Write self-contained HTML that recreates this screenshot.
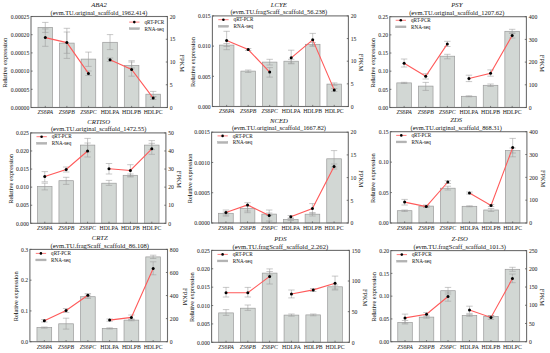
<!DOCTYPE html>
<html><head><meta charset="utf-8"><style>
html,body{margin:0;padding:0;background:#fff;}
svg{display:block;}
text{font-family:"Liberation Serif", serif; fill:#1a1a1a; stroke:#1a1a1a; stroke-width:0.03px;}
</style></head><body>
<svg width="550" height="353" viewBox="0 0 550 353">
<rect width="550" height="353" fill="#fff"/>
<g>
<rect x="38" y="27.4" width="14.59" height="80.1" fill="#d2d7d4" stroke="#9a9a9a" stroke-width="0.7"/>
<rect x="59.58" y="43.1" width="14.59" height="64.4" fill="#d2d7d4" stroke="#9a9a9a" stroke-width="0.7"/>
<rect x="81.15" y="59.1" width="14.59" height="48.4" fill="#d2d7d4" stroke="#9a9a9a" stroke-width="0.7"/>
<rect x="102.73" y="42.3" width="14.59" height="65.2" fill="#d2d7d4" stroke="#9a9a9a" stroke-width="0.7"/>
<rect x="124.31" y="65.5" width="14.59" height="42" fill="#d2d7d4" stroke="#9a9a9a" stroke-width="0.7"/>
<rect x="145.89" y="94.2" width="14.59" height="13.3" fill="#d2d7d4" stroke="#9a9a9a" stroke-width="0.7"/>
<path d="M45.29 22.4V32.4M42.09 22.4H48.49M42.09 32.4H48.49" stroke="#9a9a9a" stroke-width="0.55" fill="none"/>
<path d="M66.87 28.3V58.4M63.67 28.3H70.07M63.67 58.4H70.07" stroke="#9a9a9a" stroke-width="0.55" fill="none"/>
<path d="M88.45 52.1V66.4M85.25 52.1H91.65M85.25 66.4H91.65" stroke="#9a9a9a" stroke-width="0.55" fill="none"/>
<path d="M110.03 34.6V49.6M106.83 34.6H113.23M106.83 49.6H113.23" stroke="#9a9a9a" stroke-width="0.55" fill="none"/>
<path d="M131.61 62V68M128.41 62H134.81M128.41 68H134.81" stroke="#9a9a9a" stroke-width="0.55" fill="none"/>
<path d="M153.19 91.4V97M149.99 91.4H156.39M149.99 97H156.39" stroke="#9a9a9a" stroke-width="0.55" fill="none"/>
<path d="M45.29 28.9V46.3M42.09 28.9H48.49M42.09 46.3H48.49" stroke="#9a9a9a" stroke-width="0.55" fill="none"/>
<path d="M66.87 32V53.3M63.67 32H70.07M63.67 53.3H70.07" stroke="#9a9a9a" stroke-width="0.55" fill="none"/>
<path d="M88.45 71V75.5M85.25 71H91.65M85.25 75.5H91.65" stroke="#9a9a9a" stroke-width="0.55" fill="none"/>
<path d="M110.03 58V61.5M106.83 58H113.23M106.83 61.5H113.23" stroke="#9a9a9a" stroke-width="0.55" fill="none"/>
<path d="M131.61 60.7V76.2M128.41 60.7H134.81M128.41 76.2H134.81" stroke="#9a9a9a" stroke-width="0.55" fill="none"/>
<path d="M153.19 96.5V99.5M149.99 96.5H156.39M149.99 99.5H156.39" stroke="#9a9a9a" stroke-width="0.55" fill="none"/>
<polyline points="45.29,37.6 66.87,42.6 88.45,73.4" fill="none" stroke="#ff5a5a" stroke-width="1.1"/>
<polyline points="110.03,59.8 131.61,69.4 153.19,98.1" fill="none" stroke="#ff5a5a" stroke-width="1.1"/>
<circle cx="45.29" cy="37.6" r="1.5" fill="#000"/>
<circle cx="66.87" cy="42.6" r="1.5" fill="#000"/>
<circle cx="88.45" cy="73.4" r="1.5" fill="#000"/>
<circle cx="110.03" cy="59.8" r="1.5" fill="#000"/>
<circle cx="131.61" cy="69.4" r="1.5" fill="#000"/>
<circle cx="153.19" cy="98.1" r="1.5" fill="#000"/>
<rect x="31" y="16.5" width="136.4" height="91" fill="none" stroke="#6e6e6e" stroke-width="1.1"/>
<path d="M31 16.5H32.6" stroke="#555" stroke-width="0.8"/>
<text x="29.3" y="18.7" font-size="5.7" text-anchor="end">0.00025</text>
<path d="M31 34.7H32.6" stroke="#555" stroke-width="0.8"/>
<text x="29.3" y="36.9" font-size="5.7" text-anchor="end">0.00020</text>
<path d="M31 52.9H32.6" stroke="#555" stroke-width="0.8"/>
<text x="29.3" y="55.1" font-size="5.7" text-anchor="end">0.00015</text>
<path d="M31 71.1H32.6" stroke="#555" stroke-width="0.8"/>
<text x="29.3" y="73.3" font-size="5.7" text-anchor="end">0.00010</text>
<path d="M31 89.3H32.6" stroke="#555" stroke-width="0.8"/>
<text x="29.3" y="91.5" font-size="5.7" text-anchor="end">0.00005</text>
<path d="M31 107.5H32.6" stroke="#555" stroke-width="0.8"/>
<text x="29.3" y="109.7" font-size="5.7" text-anchor="end">0.00000</text>
<path d="M165.8 16.5H167.4" stroke="#555" stroke-width="0.8"/>
<text x="169.7" y="18.7" font-size="5.7">20</text>
<path d="M165.8 39.25H167.4" stroke="#555" stroke-width="0.8"/>
<text x="169.7" y="41.45" font-size="5.7">15</text>
<path d="M165.8 62H167.4" stroke="#555" stroke-width="0.8"/>
<text x="169.7" y="64.2" font-size="5.7">10</text>
<path d="M165.8 84.75H167.4" stroke="#555" stroke-width="0.8"/>
<text x="169.7" y="86.95" font-size="5.7">5</text>
<path d="M165.8 107.5H167.4" stroke="#555" stroke-width="0.8"/>
<text x="169.7" y="109.7" font-size="5.7">0</text>
<path d="M45.29 105.9V107.5" stroke="#555" stroke-width="0.7"/>
<text x="45.29" y="114" font-size="5.8" text-anchor="middle" font-style="italic">ZS6PA</text>
<path d="M66.87 105.9V107.5" stroke="#555" stroke-width="0.7"/>
<text x="66.87" y="114" font-size="5.8" text-anchor="middle" font-style="italic">ZS6PB</text>
<path d="M88.45 105.9V107.5" stroke="#555" stroke-width="0.7"/>
<text x="88.45" y="114" font-size="5.8" text-anchor="middle" font-style="italic">ZS6PC</text>
<path d="M110.03 105.9V107.5" stroke="#555" stroke-width="0.7"/>
<text x="110.03" y="114" font-size="5.8" text-anchor="middle">HDLPA</text>
<path d="M131.61 105.9V107.5" stroke="#555" stroke-width="0.7"/>
<text x="131.61" y="114" font-size="5.8" text-anchor="middle">HDLPB</text>
<path d="M153.19 105.9V107.5" stroke="#555" stroke-width="0.7"/>
<text x="153.19" y="114" font-size="5.8" text-anchor="middle">HDLPC</text>
<text x="98.95" y="7.1" font-size="6.7" font-style="italic" text-anchor="middle">ABA2</text>
<text x="98.95" y="14.7" font-size="6.34" text-anchor="middle">(evm.TU.original_scaffold_1962.414)</text>
<text transform="translate(4.1,62.8) rotate(-90) scale(1,1.08)" font-size="6.35" text-anchor="middle" dominant-baseline="central">Relative expression</text>
<text transform="translate(182.5,63.2) rotate(90) scale(1,1.08)" font-size="6.35" text-anchor="middle" dominant-baseline="central">FPKM</text>
<path d="M129.2 22.1H139.5" stroke="#ff5a5a" stroke-width="1.0" opacity="0.8"/>
<circle cx="134.3" cy="22.1" r="1.3" fill="#000"/>
<text x="144.5" y="23.85" font-size="5.15">qRT-PCR</text>
<rect x="129.2" y="27.7" width="10.3" height="1.9" fill="#b4b4b4" stroke="#a8a8a8" stroke-width="0.4"/>
<text x="144.5" y="30.5" font-size="5.15">RNA-seq</text>
</g>
<g>
<rect x="219.38" y="45.1" width="14.55" height="61.4" fill="#d2d7d4" stroke="#9a9a9a" stroke-width="0.7"/>
<rect x="240.89" y="71.1" width="14.55" height="35.4" fill="#d2d7d4" stroke="#9a9a9a" stroke-width="0.7"/>
<rect x="262.41" y="62.1" width="14.55" height="44.4" fill="#d2d7d4" stroke="#9a9a9a" stroke-width="0.7"/>
<rect x="283.92" y="61.2" width="14.55" height="45.3" fill="#d2d7d4" stroke="#9a9a9a" stroke-width="0.7"/>
<rect x="305.44" y="44.3" width="14.55" height="62.2" fill="#d2d7d4" stroke="#9a9a9a" stroke-width="0.7"/>
<rect x="326.95" y="84.1" width="14.55" height="22.4" fill="#d2d7d4" stroke="#9a9a9a" stroke-width="0.7"/>
<path d="M226.65 43.5V46.5M223.45 43.5H229.85M223.45 46.5H229.85" stroke="#9a9a9a" stroke-width="0.55" fill="none"/>
<path d="M248.17 70V72.5M244.97 70H251.37M244.97 72.5H251.37" stroke="#9a9a9a" stroke-width="0.55" fill="none"/>
<path d="M269.68 59.3V65M266.48 59.3H272.88M266.48 65H272.88" stroke="#9a9a9a" stroke-width="0.55" fill="none"/>
<path d="M291.2 59.3V63.1M288 59.3H294.4M288 63.1H294.4" stroke="#9a9a9a" stroke-width="0.55" fill="none"/>
<path d="M312.71 42.5V46M309.51 42.5H315.91M309.51 46H315.91" stroke="#9a9a9a" stroke-width="0.55" fill="none"/>
<path d="M334.23 82.9V85.3M331.03 82.9H337.43M331.03 85.3H337.43" stroke="#9a9a9a" stroke-width="0.55" fill="none"/>
<path d="M226.65 31.3V49.7M223.45 31.3H229.85M223.45 49.7H229.85" stroke="#9a9a9a" stroke-width="0.55" fill="none"/>
<path d="M248.17 48.5V50.5M244.97 48.5H251.37M244.97 50.5H251.37" stroke="#9a9a9a" stroke-width="0.55" fill="none"/>
<path d="M269.68 67.6V77.1M266.48 67.6H272.88M266.48 77.1H272.88" stroke="#9a9a9a" stroke-width="0.55" fill="none"/>
<path d="M291.2 50.2V63.8M288 50.2H294.4M288 63.8H294.4" stroke="#9a9a9a" stroke-width="0.55" fill="none"/>
<path d="M312.71 33.4V46.2M309.51 33.4H315.91M309.51 46.2H315.91" stroke="#9a9a9a" stroke-width="0.55" fill="none"/>
<path d="M334.23 88.5V91.5M331.03 88.5H337.43M331.03 91.5H337.43" stroke="#9a9a9a" stroke-width="0.55" fill="none"/>
<polyline points="226.65,40.5 248.17,49.5 269.68,72.1" fill="none" stroke="#ff5a5a" stroke-width="1.1"/>
<polyline points="291.2,57.8 312.71,39.8 334.23,89.9" fill="none" stroke="#ff5a5a" stroke-width="1.1"/>
<circle cx="226.65" cy="40.5" r="1.5" fill="#000"/>
<circle cx="248.17" cy="49.5" r="1.5" fill="#000"/>
<circle cx="269.68" cy="72.1" r="1.5" fill="#000"/>
<circle cx="291.2" cy="57.8" r="1.5" fill="#000"/>
<circle cx="312.71" cy="39.8" r="1.5" fill="#000"/>
<circle cx="334.23" cy="89.9" r="1.5" fill="#000"/>
<rect x="212.4" y="15.9" width="136" height="90.6" fill="none" stroke="#6e6e6e" stroke-width="1.1"/>
<path d="M212.4 15.9H214" stroke="#555" stroke-width="0.8"/>
<text x="210.7" y="18.1" font-size="5.7" text-anchor="end">0.015</text>
<path d="M212.4 46.1H214" stroke="#555" stroke-width="0.8"/>
<text x="210.7" y="48.3" font-size="5.7" text-anchor="end">0.010</text>
<path d="M212.4 76.3H214" stroke="#555" stroke-width="0.8"/>
<text x="210.7" y="78.5" font-size="5.7" text-anchor="end">0.005</text>
<path d="M212.4 106.5H214" stroke="#555" stroke-width="0.8"/>
<text x="210.7" y="108.7" font-size="5.7" text-anchor="end">0.000</text>
<path d="M346.8 15.9H348.4" stroke="#555" stroke-width="0.8"/>
<text x="350.7" y="18.1" font-size="5.7">20</text>
<path d="M346.8 38.55H348.4" stroke="#555" stroke-width="0.8"/>
<text x="350.7" y="40.75" font-size="5.7">15</text>
<path d="M346.8 61.2H348.4" stroke="#555" stroke-width="0.8"/>
<text x="350.7" y="63.4" font-size="5.7">10</text>
<path d="M346.8 83.85H348.4" stroke="#555" stroke-width="0.8"/>
<text x="350.7" y="86.05" font-size="5.7">5</text>
<path d="M346.8 106.5H348.4" stroke="#555" stroke-width="0.8"/>
<text x="350.7" y="108.7" font-size="5.7">0</text>
<path d="M226.65 104.9V106.5" stroke="#555" stroke-width="0.7"/>
<text x="226.65" y="113" font-size="5.8" text-anchor="middle" font-style="italic">ZS6PA</text>
<path d="M248.17 104.9V106.5" stroke="#555" stroke-width="0.7"/>
<text x="248.17" y="113" font-size="5.8" text-anchor="middle" font-style="italic">ZS6PB</text>
<path d="M269.68 104.9V106.5" stroke="#555" stroke-width="0.7"/>
<text x="269.68" y="113" font-size="5.8" text-anchor="middle" font-style="italic">ZS6PC</text>
<path d="M291.2 104.9V106.5" stroke="#555" stroke-width="0.7"/>
<text x="291.2" y="113" font-size="5.8" text-anchor="middle">HDLPA</text>
<path d="M312.71 104.9V106.5" stroke="#555" stroke-width="0.7"/>
<text x="312.71" y="113" font-size="5.8" text-anchor="middle">HDLPB</text>
<path d="M334.23 104.9V106.5" stroke="#555" stroke-width="0.7"/>
<text x="334.23" y="113" font-size="5.8" text-anchor="middle">HDLPC</text>
<text x="278.8" y="6.5" font-size="6.7" font-style="italic" text-anchor="middle">LCYE</text>
<text x="278.8" y="14.1" font-size="6.51" text-anchor="middle">(evm.TU.fragScaff_scaffold_56.238)</text>
<text transform="translate(192,62) rotate(-90) scale(1,1.08)" font-size="6.35" text-anchor="middle" dominant-baseline="central">Relative expression</text>
<text transform="translate(361.8,62.4) rotate(90) scale(1,1.08)" font-size="6.35" text-anchor="middle" dominant-baseline="central">FPKM</text>
<path d="M218.3 19.7H228.6" stroke="#ff5a5a" stroke-width="1.0" opacity="0.8"/>
<circle cx="223.4" cy="19.7" r="1.3" fill="#000"/>
<text x="233.6" y="21.45" font-size="5.15">qRT-PCR</text>
<rect x="218.3" y="25.3" width="10.3" height="1.9" fill="#b4b4b4" stroke="#a8a8a8" stroke-width="0.4"/>
<text x="233.6" y="28.1" font-size="5.15">RNA-seq</text>
</g>
<g>
<rect x="396.81" y="82.9" width="14.62" height="24.6" fill="#d2d7d4" stroke="#9a9a9a" stroke-width="0.7"/>
<rect x="418.42" y="86.1" width="14.62" height="21.4" fill="#d2d7d4" stroke="#9a9a9a" stroke-width="0.7"/>
<rect x="440.03" y="56.2" width="14.62" height="51.3" fill="#d2d7d4" stroke="#9a9a9a" stroke-width="0.7"/>
<rect x="461.64" y="96.3" width="14.62" height="11.2" fill="#d2d7d4" stroke="#9a9a9a" stroke-width="0.7"/>
<rect x="483.25" y="85.3" width="14.62" height="22.2" fill="#d2d7d4" stroke="#9a9a9a" stroke-width="0.7"/>
<rect x="504.86" y="31.3" width="14.62" height="76.2" fill="#d2d7d4" stroke="#9a9a9a" stroke-width="0.7"/>
<path d="M404.12 82.3V83.5M400.92 82.3H407.32M400.92 83.5H407.32" stroke="#9a9a9a" stroke-width="0.55" fill="none"/>
<path d="M425.73 82.4V90.4M422.53 82.4H428.93M422.53 90.4H428.93" stroke="#9a9a9a" stroke-width="0.55" fill="none"/>
<path d="M447.34 54.3V58.8M444.14 54.3H450.54M444.14 58.8H450.54" stroke="#9a9a9a" stroke-width="0.55" fill="none"/>
<path d="M468.95 95.8V96.8M465.75 95.8H472.15M465.75 96.8H472.15" stroke="#9a9a9a" stroke-width="0.55" fill="none"/>
<path d="M490.56 84V86.5M487.36 84H493.76M487.36 86.5H493.76" stroke="#9a9a9a" stroke-width="0.55" fill="none"/>
<path d="M512.17 29.3V33.3M508.97 29.3H515.37M508.97 33.3H515.37" stroke="#9a9a9a" stroke-width="0.55" fill="none"/>
<path d="M404.12 59V67M400.92 59H407.32M400.92 67H407.32" stroke="#9a9a9a" stroke-width="0.55" fill="none"/>
<path d="M425.73 73.7V79M422.53 73.7H428.93M422.53 79H428.93" stroke="#9a9a9a" stroke-width="0.55" fill="none"/>
<path d="M447.34 41.3V46.5M444.14 41.3H450.54M444.14 46.5H450.54" stroke="#9a9a9a" stroke-width="0.55" fill="none"/>
<path d="M468.95 75.2V81.6M465.75 75.2H472.15M465.75 81.6H472.15" stroke="#9a9a9a" stroke-width="0.55" fill="none"/>
<path d="M490.56 69.9V76.2M487.36 69.9H493.76M487.36 76.2H493.76" stroke="#9a9a9a" stroke-width="0.55" fill="none"/>
<path d="M512.17 33V38M508.97 33H515.37M508.97 38H515.37" stroke="#9a9a9a" stroke-width="0.55" fill="none"/>
<polyline points="404.12,63.2 425.73,76.2 447.34,43.9" fill="none" stroke="#ff5a5a" stroke-width="1.1"/>
<polyline points="468.95,78.5 490.56,73.2 512.17,35.6" fill="none" stroke="#ff5a5a" stroke-width="1.1"/>
<circle cx="404.12" cy="63.2" r="1.5" fill="#000"/>
<circle cx="425.73" cy="76.2" r="1.5" fill="#000"/>
<circle cx="447.34" cy="43.9" r="1.5" fill="#000"/>
<circle cx="468.95" cy="78.5" r="1.5" fill="#000"/>
<circle cx="490.56" cy="73.2" r="1.5" fill="#000"/>
<circle cx="512.17" cy="35.6" r="1.5" fill="#000"/>
<rect x="389.8" y="16.7" width="136.6" height="90.8" fill="none" stroke="#6e6e6e" stroke-width="1.1"/>
<path d="M389.8 16.7H391.4" stroke="#555" stroke-width="0.8"/>
<text x="388.1" y="18.9" font-size="5.7" text-anchor="end">0.25</text>
<path d="M389.8 34.86H391.4" stroke="#555" stroke-width="0.8"/>
<text x="388.1" y="37.06" font-size="5.7" text-anchor="end">0.20</text>
<path d="M389.8 53.02H391.4" stroke="#555" stroke-width="0.8"/>
<text x="388.1" y="55.22" font-size="5.7" text-anchor="end">0.15</text>
<path d="M389.8 71.18H391.4" stroke="#555" stroke-width="0.8"/>
<text x="388.1" y="73.38" font-size="5.7" text-anchor="end">0.10</text>
<path d="M389.8 89.34H391.4" stroke="#555" stroke-width="0.8"/>
<text x="388.1" y="91.54" font-size="5.7" text-anchor="end">0.05</text>
<path d="M389.8 107.5H391.4" stroke="#555" stroke-width="0.8"/>
<text x="388.1" y="109.7" font-size="5.7" text-anchor="end">0.00</text>
<path d="M524.8 16.7H526.4" stroke="#555" stroke-width="0.8"/>
<text x="528.7" y="18.9" font-size="5.7">400</text>
<path d="M524.8 39.4H526.4" stroke="#555" stroke-width="0.8"/>
<text x="528.7" y="41.6" font-size="5.7">300</text>
<path d="M524.8 62.1H526.4" stroke="#555" stroke-width="0.8"/>
<text x="528.7" y="64.3" font-size="5.7">200</text>
<path d="M524.8 84.8H526.4" stroke="#555" stroke-width="0.8"/>
<text x="528.7" y="87" font-size="5.7">100</text>
<path d="M524.8 107.5H526.4" stroke="#555" stroke-width="0.8"/>
<text x="528.7" y="109.7" font-size="5.7">0</text>
<path d="M404.12 105.9V107.5" stroke="#555" stroke-width="0.7"/>
<text x="404.12" y="114" font-size="5.8" text-anchor="middle" font-style="italic">ZS6PA</text>
<path d="M425.73 105.9V107.5" stroke="#555" stroke-width="0.7"/>
<text x="425.73" y="114" font-size="5.8" text-anchor="middle" font-style="italic">ZS6PB</text>
<path d="M447.34 105.9V107.5" stroke="#555" stroke-width="0.7"/>
<text x="447.34" y="114" font-size="5.8" text-anchor="middle" font-style="italic">ZS6PC</text>
<path d="M468.95 105.9V107.5" stroke="#555" stroke-width="0.7"/>
<text x="468.95" y="114" font-size="5.8" text-anchor="middle">HDLPA</text>
<path d="M490.56 105.9V107.5" stroke="#555" stroke-width="0.7"/>
<text x="490.56" y="114" font-size="5.8" text-anchor="middle">HDLPB</text>
<path d="M512.17 105.9V107.5" stroke="#555" stroke-width="0.7"/>
<text x="512.17" y="114" font-size="5.8" text-anchor="middle">HDLPC</text>
<text x="456.8" y="7.3" font-size="6.7" font-style="italic" text-anchor="middle">PSY</text>
<text x="456.8" y="14.9" font-size="6.44" text-anchor="middle">(evm.TU.original_scaffold_1207.62)</text>
<text transform="translate(372.1,62.9) rotate(-90) scale(1,1.08)" font-size="6.35" text-anchor="middle" dominant-baseline="central">Relative expression</text>
<text transform="translate(542.3,63.3) rotate(90) scale(1,1.08)" font-size="6.35" text-anchor="middle" dominant-baseline="central">FPKM</text>
<path d="M395.7 20.3H406" stroke="#ff5a5a" stroke-width="1.0" opacity="0.8"/>
<circle cx="400.8" cy="20.3" r="1.3" fill="#000"/>
<text x="411" y="22.05" font-size="5.15">qRT-PCR</text>
<rect x="395.7" y="25.9" width="10.3" height="1.9" fill="#b4b4b4" stroke="#a8a8a8" stroke-width="0.4"/>
<text x="411" y="28.7" font-size="5.15">RNA-seq</text>
</g>
<g>
<rect x="37.54" y="186.5" width="14.48" height="36.8" fill="#d2d7d4" stroke="#9a9a9a" stroke-width="0.7"/>
<rect x="58.95" y="180.7" width="14.48" height="42.6" fill="#d2d7d4" stroke="#9a9a9a" stroke-width="0.7"/>
<rect x="80.35" y="145.1" width="14.48" height="78.2" fill="#d2d7d4" stroke="#9a9a9a" stroke-width="0.7"/>
<rect x="101.75" y="183.2" width="14.48" height="40.1" fill="#d2d7d4" stroke="#9a9a9a" stroke-width="0.7"/>
<rect x="123.16" y="175.3" width="14.48" height="48" fill="#d2d7d4" stroke="#9a9a9a" stroke-width="0.7"/>
<rect x="144.56" y="145.1" width="14.48" height="78.2" fill="#d2d7d4" stroke="#9a9a9a" stroke-width="0.7"/>
<path d="M44.78 183.2V189.9M41.58 183.2H47.98M41.58 189.9H47.98" stroke="#9a9a9a" stroke-width="0.55" fill="none"/>
<path d="M66.18 177.3V184.4M62.98 177.3H69.38M62.98 184.4H69.38" stroke="#9a9a9a" stroke-width="0.55" fill="none"/>
<path d="M87.59 138.4V151.8M84.39 138.4H90.79M84.39 151.8H90.79" stroke="#9a9a9a" stroke-width="0.55" fill="none"/>
<path d="M108.99 180.4V185.4M105.79 180.4H112.19M105.79 185.4H112.19" stroke="#9a9a9a" stroke-width="0.55" fill="none"/>
<path d="M130.4 174V177M127.2 174H133.6M127.2 177H133.6" stroke="#9a9a9a" stroke-width="0.55" fill="none"/>
<path d="M151.8 140.6V149.6M148.6 140.6H155M148.6 149.6H155" stroke="#9a9a9a" stroke-width="0.55" fill="none"/>
<path d="M44.78 171.6V181.8M41.58 171.6H47.98M41.58 181.8H47.98" stroke="#9a9a9a" stroke-width="0.55" fill="none"/>
<path d="M66.18 167V172M62.98 167H69.38M62.98 172H69.38" stroke="#9a9a9a" stroke-width="0.55" fill="none"/>
<path d="M87.59 143V157M84.39 143H90.79M84.39 157H90.79" stroke="#9a9a9a" stroke-width="0.55" fill="none"/>
<path d="M108.99 163.5V174M105.79 163.5H112.19M105.79 174H112.19" stroke="#9a9a9a" stroke-width="0.55" fill="none"/>
<path d="M130.4 164.7V176.3M127.2 164.7H133.6M127.2 176.3H133.6" stroke="#9a9a9a" stroke-width="0.55" fill="none"/>
<path d="M151.8 143.3V154.3M148.6 143.3H155M148.6 154.3H155" stroke="#9a9a9a" stroke-width="0.55" fill="none"/>
<polyline points="44.78,176.5 66.18,169.5 87.59,151" fill="none" stroke="#ff5a5a" stroke-width="1.1"/>
<polyline points="108.99,168.8 130.4,170.5 151.8,148.8" fill="none" stroke="#ff5a5a" stroke-width="1.1"/>
<circle cx="44.78" cy="176.5" r="1.5" fill="#000"/>
<circle cx="66.18" cy="169.5" r="1.5" fill="#000"/>
<circle cx="87.59" cy="151" r="1.5" fill="#000"/>
<circle cx="108.99" cy="168.8" r="1.5" fill="#000"/>
<circle cx="130.4" cy="170.5" r="1.5" fill="#000"/>
<circle cx="151.8" cy="148.8" r="1.5" fill="#000"/>
<rect x="30.6" y="132.9" width="135.3" height="90.4" fill="none" stroke="#6e6e6e" stroke-width="1.1"/>
<path d="M30.6 132.9H32.2" stroke="#555" stroke-width="0.8"/>
<text x="28.9" y="135.1" font-size="5.7" text-anchor="end">0.025</text>
<path d="M30.6 150.98H32.2" stroke="#555" stroke-width="0.8"/>
<text x="28.9" y="153.18" font-size="5.7" text-anchor="end">0.020</text>
<path d="M30.6 169.06H32.2" stroke="#555" stroke-width="0.8"/>
<text x="28.9" y="171.26" font-size="5.7" text-anchor="end">0.015</text>
<path d="M30.6 187.14H32.2" stroke="#555" stroke-width="0.8"/>
<text x="28.9" y="189.34" font-size="5.7" text-anchor="end">0.010</text>
<path d="M30.6 205.22H32.2" stroke="#555" stroke-width="0.8"/>
<text x="28.9" y="207.42" font-size="5.7" text-anchor="end">0.005</text>
<path d="M30.6 223.3H32.2" stroke="#555" stroke-width="0.8"/>
<text x="28.9" y="225.5" font-size="5.7" text-anchor="end">0.000</text>
<path d="M164.3 132.9H165.9" stroke="#555" stroke-width="0.8"/>
<text x="168.2" y="135.1" font-size="5.7">50</text>
<path d="M164.3 150.98H165.9" stroke="#555" stroke-width="0.8"/>
<text x="168.2" y="153.18" font-size="5.7">40</text>
<path d="M164.3 169.06H165.9" stroke="#555" stroke-width="0.8"/>
<text x="168.2" y="171.26" font-size="5.7">30</text>
<path d="M164.3 187.14H165.9" stroke="#555" stroke-width="0.8"/>
<text x="168.2" y="189.34" font-size="5.7">20</text>
<path d="M164.3 205.22H165.9" stroke="#555" stroke-width="0.8"/>
<text x="168.2" y="207.42" font-size="5.7">10</text>
<path d="M164.3 223.3H165.9" stroke="#555" stroke-width="0.8"/>
<text x="168.2" y="225.5" font-size="5.7">0</text>
<path d="M44.78 221.7V223.3" stroke="#555" stroke-width="0.7"/>
<text x="44.78" y="229.9" font-size="5.8" text-anchor="middle" font-style="italic">ZS6PA</text>
<path d="M66.18 221.7V223.3" stroke="#555" stroke-width="0.7"/>
<text x="66.18" y="229.9" font-size="5.8" text-anchor="middle" font-style="italic">ZS6PB</text>
<path d="M87.59 221.7V223.3" stroke="#555" stroke-width="0.7"/>
<text x="87.59" y="229.9" font-size="5.8" text-anchor="middle" font-style="italic">ZS6PC</text>
<path d="M108.99 221.7V223.3" stroke="#555" stroke-width="0.7"/>
<text x="108.99" y="229.9" font-size="5.8" text-anchor="middle">HDLPA</text>
<path d="M130.4 221.7V223.3" stroke="#555" stroke-width="0.7"/>
<text x="130.4" y="229.9" font-size="5.8" text-anchor="middle">HDLPB</text>
<path d="M151.8 221.7V223.3" stroke="#555" stroke-width="0.7"/>
<text x="151.8" y="229.9" font-size="5.8" text-anchor="middle">HDLPC</text>
<text x="98.65" y="123.5" font-size="6.7" font-style="italic" text-anchor="middle">CRTISO</text>
<text x="98.65" y="131.1" font-size="6.46" text-anchor="middle">(evm.TU.original_scaffold_1472.55)</text>
<text transform="translate(10.6,178.9) rotate(-90) scale(1,1.08)" font-size="6.35" text-anchor="middle" dominant-baseline="central">Relative expression</text>
<text transform="translate(180,179.3) rotate(90) scale(1,1.08)" font-size="6.35" text-anchor="middle" dominant-baseline="central">FPKM</text>
<path d="M36.5 136.7H46.8" stroke="#ff5a5a" stroke-width="1.0" opacity="0.8"/>
<circle cx="41.6" cy="136.7" r="1.3" fill="#000"/>
<text x="51.8" y="138.45" font-size="5.15">qRT-PCR</text>
<rect x="36.5" y="142.3" width="10.3" height="1.9" fill="#b4b4b4" stroke="#a8a8a8" stroke-width="0.4"/>
<text x="51.8" y="145.1" font-size="5.15">RNA-seq</text>
</g>
<g>
<rect x="218.61" y="213.3" width="14.63" height="9.7" fill="#d2d7d4" stroke="#9a9a9a" stroke-width="0.7"/>
<rect x="240.24" y="208.3" width="14.63" height="14.7" fill="#d2d7d4" stroke="#9a9a9a" stroke-width="0.7"/>
<rect x="261.86" y="214.1" width="14.63" height="8.9" fill="#d2d7d4" stroke="#9a9a9a" stroke-width="0.7"/>
<rect x="283.49" y="219.5" width="14.63" height="3.5" fill="#d2d7d4" stroke="#9a9a9a" stroke-width="0.7"/>
<rect x="305.12" y="214.2" width="14.63" height="8.8" fill="#d2d7d4" stroke="#9a9a9a" stroke-width="0.7"/>
<rect x="326.74" y="158.8" width="14.63" height="64.2" fill="#d2d7d4" stroke="#9a9a9a" stroke-width="0.7"/>
<path d="M225.93 212V215M222.73 212H229.13M222.73 215H229.13" stroke="#9a9a9a" stroke-width="0.55" fill="none"/>
<path d="M247.55 206V211M244.35 206H250.75M244.35 211H250.75" stroke="#9a9a9a" stroke-width="0.55" fill="none"/>
<path d="M269.18 213V215.5M265.98 213H272.38M265.98 215.5H272.38" stroke="#9a9a9a" stroke-width="0.55" fill="none"/>
<path d="M290.8 218.5V220.5M287.6 218.5H294M287.6 220.5H294" stroke="#9a9a9a" stroke-width="0.55" fill="none"/>
<path d="M312.43 212.5V216M309.23 212.5H315.63M309.23 216H315.63" stroke="#9a9a9a" stroke-width="0.55" fill="none"/>
<path d="M334.06 150.6V167M330.86 150.6H337.26M330.86 167H337.26" stroke="#9a9a9a" stroke-width="0.55" fill="none"/>
<path d="M225.93 210V216.1M222.73 210H229.13M222.73 216.1H229.13" stroke="#9a9a9a" stroke-width="0.55" fill="none"/>
<path d="M247.55 202.7V212.7M244.35 202.7H250.75M244.35 212.7H250.75" stroke="#9a9a9a" stroke-width="0.55" fill="none"/>
<path d="M269.18 210V221M265.98 210H272.38M265.98 221H272.38" stroke="#9a9a9a" stroke-width="0.55" fill="none"/>
<path d="M290.8 215.5V218M287.6 215.5H294M287.6 218H294" stroke="#9a9a9a" stroke-width="0.55" fill="none"/>
<path d="M312.43 203.6V213.6M309.23 203.6H315.63M309.23 213.6H315.63" stroke="#9a9a9a" stroke-width="0.55" fill="none"/>
<path d="M334.06 164V169M330.86 164H337.26M330.86 169H337.26" stroke="#9a9a9a" stroke-width="0.55" fill="none"/>
<polyline points="225.93,212.4 247.55,204.9 269.18,215.5" fill="none" stroke="#ff5a5a" stroke-width="1.1"/>
<polyline points="290.8,216.7 312.43,208.6 334.06,166.5" fill="none" stroke="#ff5a5a" stroke-width="1.1"/>
<circle cx="225.93" cy="212.4" r="1.5" fill="#000"/>
<circle cx="247.55" cy="204.9" r="1.5" fill="#000"/>
<circle cx="269.18" cy="215.5" r="1.5" fill="#000"/>
<circle cx="290.8" cy="216.7" r="1.5" fill="#000"/>
<circle cx="312.43" cy="208.6" r="1.5" fill="#000"/>
<circle cx="334.06" cy="166.5" r="1.5" fill="#000"/>
<rect x="211.6" y="132.2" width="136.7" height="90.8" fill="none" stroke="#6e6e6e" stroke-width="1.1"/>
<path d="M211.6 132.2H213.2" stroke="#555" stroke-width="0.8"/>
<text x="209.9" y="134.4" font-size="5.7" text-anchor="end">0.0015</text>
<path d="M211.6 162.47H213.2" stroke="#555" stroke-width="0.8"/>
<text x="209.9" y="164.67" font-size="5.7" text-anchor="end">0.0010</text>
<path d="M211.6 192.73H213.2" stroke="#555" stroke-width="0.8"/>
<text x="209.9" y="194.93" font-size="5.7" text-anchor="end">0.0005</text>
<path d="M211.6 223H213.2" stroke="#555" stroke-width="0.8"/>
<text x="209.9" y="225.2" font-size="5.7" text-anchor="end">0.0000</text>
<path d="M346.7 132.2H348.3" stroke="#555" stroke-width="0.8"/>
<text x="350.6" y="134.4" font-size="5.7">20</text>
<path d="M346.7 154.9H348.3" stroke="#555" stroke-width="0.8"/>
<text x="350.6" y="157.1" font-size="5.7">15</text>
<path d="M346.7 177.6H348.3" stroke="#555" stroke-width="0.8"/>
<text x="350.6" y="179.8" font-size="5.7">10</text>
<path d="M346.7 200.3H348.3" stroke="#555" stroke-width="0.8"/>
<text x="350.6" y="202.5" font-size="5.7">5</text>
<path d="M346.7 223H348.3" stroke="#555" stroke-width="0.8"/>
<text x="350.6" y="225.2" font-size="5.7">0</text>
<path d="M225.93 221.4V223" stroke="#555" stroke-width="0.7"/>
<text x="225.93" y="229.6" font-size="5.8" text-anchor="middle" font-style="italic">ZS6PA</text>
<path d="M247.55 221.4V223" stroke="#555" stroke-width="0.7"/>
<text x="247.55" y="229.6" font-size="5.8" text-anchor="middle" font-style="italic">ZS6PB</text>
<path d="M269.18 221.4V223" stroke="#555" stroke-width="0.7"/>
<text x="269.18" y="229.6" font-size="5.8" text-anchor="middle" font-style="italic">ZS6PC</text>
<path d="M290.8 221.4V223" stroke="#555" stroke-width="0.7"/>
<text x="290.8" y="229.6" font-size="5.8" text-anchor="middle">HDLPA</text>
<path d="M312.43 221.4V223" stroke="#555" stroke-width="0.7"/>
<text x="312.43" y="229.6" font-size="5.8" text-anchor="middle">HDLPB</text>
<path d="M334.06 221.4V223" stroke="#555" stroke-width="0.7"/>
<text x="334.06" y="229.6" font-size="5.8" text-anchor="middle">HDLPC</text>
<text x="278.95" y="122.8" font-size="6.7" font-style="italic" text-anchor="middle">NCED</text>
<text x="278.95" y="130.4" font-size="6.36" text-anchor="middle">(evm.TU.original_scaffold_1667.82)</text>
<text transform="translate(189,178.4) rotate(-90) scale(1,1.08)" font-size="6.35" text-anchor="middle" dominant-baseline="central">Relative expression</text>
<text transform="translate(361.8,178.8) rotate(90) scale(1,1.08)" font-size="6.35" text-anchor="middle" dominant-baseline="central">FPKM</text>
<path d="M217.5 135.9H227.8" stroke="#ff5a5a" stroke-width="1.0" opacity="0.8"/>
<circle cx="222.6" cy="135.9" r="1.3" fill="#000"/>
<text x="232.8" y="137.65" font-size="5.15">qRT-PCR</text>
<rect x="217.5" y="141.5" width="10.3" height="1.9" fill="#b4b4b4" stroke="#a8a8a8" stroke-width="0.4"/>
<text x="232.8" y="144.3" font-size="5.15">RNA-seq</text>
</g>
<g>
<rect x="397.31" y="210.7" width="14.62" height="12.3" fill="#d2d7d4" stroke="#9a9a9a" stroke-width="0.7"/>
<rect x="418.92" y="206.1" width="14.62" height="16.9" fill="#d2d7d4" stroke="#9a9a9a" stroke-width="0.7"/>
<rect x="440.53" y="188.2" width="14.62" height="34.8" fill="#d2d7d4" stroke="#9a9a9a" stroke-width="0.7"/>
<rect x="462.14" y="206.3" width="14.62" height="16.7" fill="#d2d7d4" stroke="#9a9a9a" stroke-width="0.7"/>
<rect x="483.75" y="210" width="14.62" height="13" fill="#d2d7d4" stroke="#9a9a9a" stroke-width="0.7"/>
<rect x="505.36" y="150.6" width="14.62" height="72.4" fill="#d2d7d4" stroke="#9a9a9a" stroke-width="0.7"/>
<path d="M404.62 210V211.5M401.42 210H407.82M401.42 211.5H407.82" stroke="#9a9a9a" stroke-width="0.55" fill="none"/>
<path d="M426.23 205V207M423.03 205H429.43M423.03 207H429.43" stroke="#9a9a9a" stroke-width="0.55" fill="none"/>
<path d="M447.84 186.2V190M444.64 186.2H451.04M444.64 190H451.04" stroke="#9a9a9a" stroke-width="0.55" fill="none"/>
<path d="M469.45 205.8V206.8M466.25 205.8H472.65M466.25 206.8H472.65" stroke="#9a9a9a" stroke-width="0.55" fill="none"/>
<path d="M491.06 208.5V211.5M487.86 208.5H494.26M487.86 211.5H494.26" stroke="#9a9a9a" stroke-width="0.55" fill="none"/>
<path d="M512.67 148V153M509.47 148H515.87M509.47 153H515.87" stroke="#9a9a9a" stroke-width="0.55" fill="none"/>
<path d="M404.62 199.4V205M401.42 199.4H407.82M401.42 205H407.82" stroke="#9a9a9a" stroke-width="0.55" fill="none"/>
<path d="M426.23 205.5V207.5M423.03 205.5H429.43M423.03 207.5H429.43" stroke="#9a9a9a" stroke-width="0.55" fill="none"/>
<path d="M447.84 180.7V183.5M444.64 180.7H451.04M444.64 183.5H451.04" stroke="#9a9a9a" stroke-width="0.55" fill="none"/>
<path d="M469.45 192V194M466.25 192H472.65M466.25 194H472.65" stroke="#9a9a9a" stroke-width="0.55" fill="none"/>
<path d="M491.06 204.5V206.5M487.86 204.5H494.26M487.86 206.5H494.26" stroke="#9a9a9a" stroke-width="0.55" fill="none"/>
<path d="M512.67 138.4V156.8M509.47 138.4H515.87M509.47 156.8H515.87" stroke="#9a9a9a" stroke-width="0.55" fill="none"/>
<polyline points="404.62,202.1 426.23,206.6 447.84,182" fill="none" stroke="#ff5a5a" stroke-width="1.1"/>
<polyline points="469.45,192.9 491.06,205.4 512.67,147.6" fill="none" stroke="#ff5a5a" stroke-width="1.1"/>
<circle cx="404.62" cy="202.1" r="1.5" fill="#000"/>
<circle cx="426.23" cy="206.6" r="1.5" fill="#000"/>
<circle cx="447.84" cy="182" r="1.5" fill="#000"/>
<circle cx="469.45" cy="192.9" r="1.5" fill="#000"/>
<circle cx="491.06" cy="205.4" r="1.5" fill="#000"/>
<circle cx="512.67" cy="147.6" r="1.5" fill="#000"/>
<rect x="390.3" y="131.7" width="136.6" height="91.3" fill="none" stroke="#6e6e6e" stroke-width="1.1"/>
<path d="M390.3 131.7H391.9" stroke="#555" stroke-width="0.8"/>
<text x="388.6" y="133.9" font-size="5.7" text-anchor="end">0.15</text>
<path d="M390.3 162.13H391.9" stroke="#555" stroke-width="0.8"/>
<text x="388.6" y="164.33" font-size="5.7" text-anchor="end">0.10</text>
<path d="M390.3 192.57H391.9" stroke="#555" stroke-width="0.8"/>
<text x="388.6" y="194.77" font-size="5.7" text-anchor="end">0.05</text>
<path d="M390.3 223H391.9" stroke="#555" stroke-width="0.8"/>
<text x="388.6" y="225.2" font-size="5.7" text-anchor="end">0.00</text>
<path d="M525.3 131.7H526.9" stroke="#555" stroke-width="0.8"/>
<text x="529.2" y="133.9" font-size="5.7">400</text>
<path d="M525.3 154.52H526.9" stroke="#555" stroke-width="0.8"/>
<text x="529.2" y="156.72" font-size="5.7">300</text>
<path d="M525.3 177.35H526.9" stroke="#555" stroke-width="0.8"/>
<text x="529.2" y="179.55" font-size="5.7">200</text>
<path d="M525.3 200.18H526.9" stroke="#555" stroke-width="0.8"/>
<text x="529.2" y="202.38" font-size="5.7">100</text>
<path d="M525.3 223H526.9" stroke="#555" stroke-width="0.8"/>
<text x="529.2" y="225.2" font-size="5.7">0</text>
<path d="M404.62 221.4V223" stroke="#555" stroke-width="0.7"/>
<text x="404.62" y="229.6" font-size="5.8" text-anchor="middle" font-style="italic">ZS6PA</text>
<path d="M426.23 221.4V223" stroke="#555" stroke-width="0.7"/>
<text x="426.23" y="229.6" font-size="5.8" text-anchor="middle" font-style="italic">ZS6PB</text>
<path d="M447.84 221.4V223" stroke="#555" stroke-width="0.7"/>
<text x="447.84" y="229.6" font-size="5.8" text-anchor="middle" font-style="italic">ZS6PC</text>
<path d="M469.45 221.4V223" stroke="#555" stroke-width="0.7"/>
<text x="469.45" y="229.6" font-size="5.8" text-anchor="middle">HDLPA</text>
<path d="M491.06 221.4V223" stroke="#555" stroke-width="0.7"/>
<text x="491.06" y="229.6" font-size="5.8" text-anchor="middle">HDLPB</text>
<path d="M512.67 221.4V223" stroke="#555" stroke-width="0.7"/>
<text x="512.67" y="229.6" font-size="5.8" text-anchor="middle">HDLPC</text>
<text x="456.2" y="122.3" font-size="6.7" font-style="italic" text-anchor="middle">ZDS</text>
<text x="456.2" y="129.9" font-size="6.4" text-anchor="middle">(evm.TU.original_scaffold_868.31)</text>
<text transform="translate(372.1,178.15) rotate(-90) scale(1,1.08)" font-size="6.35" text-anchor="middle" dominant-baseline="central">Relative expression</text>
<text transform="translate(543.4,178.55) rotate(90) scale(1,1.08)" font-size="6.35" text-anchor="middle" dominant-baseline="central">FPKM</text>
<path d="M396.2 135.4H406.5" stroke="#ff5a5a" stroke-width="1.0" opacity="0.8"/>
<circle cx="401.3" cy="135.4" r="1.3" fill="#000"/>
<text x="411.5" y="137.15" font-size="5.15">qRT-PCR</text>
<rect x="396.2" y="141" width="10.3" height="1.9" fill="#b4b4b4" stroke="#a8a8a8" stroke-width="0.4"/>
<text x="411.5" y="143.8" font-size="5.15">RNA-seq</text>
</g>
<g>
<rect x="36.96" y="327.6" width="14.72" height="14.1" fill="#d2d7d4" stroke="#9a9a9a" stroke-width="0.7"/>
<rect x="58.73" y="323.8" width="14.72" height="17.9" fill="#d2d7d4" stroke="#9a9a9a" stroke-width="0.7"/>
<rect x="80.5" y="296.7" width="14.72" height="45" fill="#d2d7d4" stroke="#9a9a9a" stroke-width="0.7"/>
<rect x="102.26" y="328.4" width="14.72" height="13.3" fill="#d2d7d4" stroke="#9a9a9a" stroke-width="0.7"/>
<rect x="124.03" y="320.1" width="14.72" height="21.6" fill="#d2d7d4" stroke="#9a9a9a" stroke-width="0.7"/>
<rect x="145.8" y="256.9" width="14.72" height="84.8" fill="#d2d7d4" stroke="#9a9a9a" stroke-width="0.7"/>
<path d="M44.32 327V328.2M41.12 327H47.52M41.12 328.2H47.52" stroke="#9a9a9a" stroke-width="0.55" fill="none"/>
<path d="M66.09 318.2V329.1M62.89 318.2H69.29M62.89 329.1H69.29" stroke="#9a9a9a" stroke-width="0.55" fill="none"/>
<path d="M87.86 295V298.5M84.66 295H91.06M84.66 298.5H91.06" stroke="#9a9a9a" stroke-width="0.55" fill="none"/>
<path d="M109.63 327.8V329M106.43 327.8H112.83M106.43 329H112.83" stroke="#9a9a9a" stroke-width="0.55" fill="none"/>
<path d="M131.39 319.5V320.8M128.19 319.5H134.59M128.19 320.8H134.59" stroke="#9a9a9a" stroke-width="0.55" fill="none"/>
<path d="M153.16 255.2V258.5M149.96 255.2H156.36M149.96 258.5H156.36" stroke="#9a9a9a" stroke-width="0.55" fill="none"/>
<path d="M44.32 319.5V322M41.12 319.5H47.52M41.12 322H47.52" stroke="#9a9a9a" stroke-width="0.55" fill="none"/>
<path d="M66.09 308.5V312.5M62.89 308.5H69.29M62.89 312.5H69.29" stroke="#9a9a9a" stroke-width="0.55" fill="none"/>
<path d="M87.86 293.5V297M84.66 293.5H91.06M84.66 297H91.06" stroke="#9a9a9a" stroke-width="0.55" fill="none"/>
<path d="M109.63 319V321.2M106.43 319H112.83M106.43 321.2H112.83" stroke="#9a9a9a" stroke-width="0.55" fill="none"/>
<path d="M131.39 315V319M128.19 315H134.59M128.19 319H134.59" stroke="#9a9a9a" stroke-width="0.55" fill="none"/>
<path d="M153.16 261.8V274.8M149.96 261.8H156.36M149.96 274.8H156.36" stroke="#9a9a9a" stroke-width="0.55" fill="none"/>
<polyline points="44.32,320.7 66.09,310.4 87.86,295.3" fill="none" stroke="#ff5a5a" stroke-width="1.1"/>
<polyline points="109.63,320.1 131.39,317.4 153.16,268.5" fill="none" stroke="#ff5a5a" stroke-width="1.1"/>
<circle cx="44.32" cy="320.7" r="1.5" fill="#000"/>
<circle cx="66.09" cy="310.4" r="1.5" fill="#000"/>
<circle cx="87.86" cy="295.3" r="1.5" fill="#000"/>
<circle cx="109.63" cy="320.1" r="1.5" fill="#000"/>
<circle cx="131.39" cy="317.4" r="1.5" fill="#000"/>
<circle cx="153.16" cy="268.5" r="1.5" fill="#000"/>
<rect x="29.9" y="249.4" width="137.6" height="92.3" fill="none" stroke="#6e6e6e" stroke-width="1.1"/>
<path d="M29.9 249.4H31.5" stroke="#555" stroke-width="0.8"/>
<text x="28.2" y="251.6" font-size="5.7" text-anchor="end">0.3</text>
<path d="M29.9 280.17H31.5" stroke="#555" stroke-width="0.8"/>
<text x="28.2" y="282.37" font-size="5.7" text-anchor="end">0.2</text>
<path d="M29.9 310.93H31.5" stroke="#555" stroke-width="0.8"/>
<text x="28.2" y="313.13" font-size="5.7" text-anchor="end">0.1</text>
<path d="M29.9 341.7H31.5" stroke="#555" stroke-width="0.8"/>
<text x="28.2" y="343.9" font-size="5.7" text-anchor="end">0.0</text>
<path d="M165.9 249.4H167.5" stroke="#555" stroke-width="0.8"/>
<text x="169.8" y="251.6" font-size="5.7">800</text>
<path d="M165.9 272.48H167.5" stroke="#555" stroke-width="0.8"/>
<text x="169.8" y="274.68" font-size="5.7">600</text>
<path d="M165.9 295.55H167.5" stroke="#555" stroke-width="0.8"/>
<text x="169.8" y="297.75" font-size="5.7">400</text>
<path d="M165.9 318.62H167.5" stroke="#555" stroke-width="0.8"/>
<text x="169.8" y="320.82" font-size="5.7">200</text>
<path d="M165.9 341.7H167.5" stroke="#555" stroke-width="0.8"/>
<text x="169.8" y="343.9" font-size="5.7">0</text>
<path d="M44.32 340.1V341.7" stroke="#555" stroke-width="0.7"/>
<text x="44.32" y="348.8" font-size="5.8" text-anchor="middle" font-style="italic">ZS6PA</text>
<path d="M66.09 340.1V341.7" stroke="#555" stroke-width="0.7"/>
<text x="66.09" y="348.8" font-size="5.8" text-anchor="middle" font-style="italic">ZS6PB</text>
<path d="M87.86 340.1V341.7" stroke="#555" stroke-width="0.7"/>
<text x="87.86" y="348.8" font-size="5.8" text-anchor="middle" font-style="italic">ZS6PC</text>
<path d="M109.63 340.1V341.7" stroke="#555" stroke-width="0.7"/>
<text x="109.63" y="348.8" font-size="5.8" text-anchor="middle">HDLPA</text>
<path d="M131.39 340.1V341.7" stroke="#555" stroke-width="0.7"/>
<text x="131.39" y="348.8" font-size="5.8" text-anchor="middle">HDLPB</text>
<path d="M153.16 340.1V341.7" stroke="#555" stroke-width="0.7"/>
<text x="153.16" y="348.8" font-size="5.8" text-anchor="middle">HDLPC</text>
<text x="99.8" y="240" font-size="6.7" font-style="italic" text-anchor="middle">CRTZ</text>
<text x="99.8" y="247.6" font-size="6.64" text-anchor="middle">(evm.TU.fragScaff_scaffold_86.108)</text>
<text transform="translate(15.4,296.35) rotate(-90) scale(1,1.08)" font-size="6.35" text-anchor="middle" dominant-baseline="central">Relative expression</text>
<text transform="translate(185.2,296.75) rotate(90) scale(1,1.08)" font-size="6.35" text-anchor="middle" dominant-baseline="central">FPKM</text>
<path d="M35.8 253.4H46.1" stroke="#ff5a5a" stroke-width="1.0" opacity="0.8"/>
<circle cx="40.9" cy="253.4" r="1.3" fill="#000"/>
<text x="51.1" y="255.15" font-size="5.15">qRT-PCR</text>
<rect x="35.8" y="259" width="10.3" height="1.9" fill="#b4b4b4" stroke="#a8a8a8" stroke-width="0.4"/>
<text x="51.1" y="261.8" font-size="5.15">RNA-seq</text>
</g>
<g>
<rect x="218.67" y="312.9" width="14.74" height="29.4" fill="#d2d7d4" stroke="#9a9a9a" stroke-width="0.7"/>
<rect x="240.47" y="308.2" width="14.74" height="34.1" fill="#d2d7d4" stroke="#9a9a9a" stroke-width="0.7"/>
<rect x="262.27" y="273.1" width="14.74" height="69.2" fill="#d2d7d4" stroke="#9a9a9a" stroke-width="0.7"/>
<rect x="284.07" y="315.1" width="14.74" height="27.2" fill="#d2d7d4" stroke="#9a9a9a" stroke-width="0.7"/>
<rect x="305.87" y="314.9" width="14.74" height="27.4" fill="#d2d7d4" stroke="#9a9a9a" stroke-width="0.7"/>
<rect x="327.67" y="286.8" width="14.74" height="55.5" fill="#d2d7d4" stroke="#9a9a9a" stroke-width="0.7"/>
<path d="M226.04 309.6V315.4M222.84 309.6H229.24M222.84 315.4H229.24" stroke="#9a9a9a" stroke-width="0.55" fill="none"/>
<path d="M247.84 305V310.4M244.64 305H251.04M244.64 310.4H251.04" stroke="#9a9a9a" stroke-width="0.55" fill="none"/>
<path d="M269.64 271.5V275M266.44 271.5H272.84M266.44 275H272.84" stroke="#9a9a9a" stroke-width="0.55" fill="none"/>
<path d="M291.44 314V316.2M288.24 314H294.64M288.24 316.2H294.64" stroke="#9a9a9a" stroke-width="0.55" fill="none"/>
<path d="M313.24 314V315.8M310.04 314H316.44M310.04 315.8H316.44" stroke="#9a9a9a" stroke-width="0.55" fill="none"/>
<path d="M335.04 285V289M331.84 285H338.24M331.84 289H338.24" stroke="#9a9a9a" stroke-width="0.55" fill="none"/>
<path d="M226.04 287.4V297M222.84 287.4H229.24M222.84 297H229.24" stroke="#9a9a9a" stroke-width="0.55" fill="none"/>
<path d="M247.84 287.4V297M244.64 287.4H251.04M244.64 297H251.04" stroke="#9a9a9a" stroke-width="0.55" fill="none"/>
<path d="M269.64 268.9V284M266.44 268.9H272.84M266.44 284H272.84" stroke="#9a9a9a" stroke-width="0.55" fill="none"/>
<path d="M291.44 290V297.9M288.24 290H294.64M288.24 297.9H294.64" stroke="#9a9a9a" stroke-width="0.55" fill="none"/>
<path d="M313.24 288.5V291.5M310.04 288.5H316.44M310.04 291.5H316.44" stroke="#9a9a9a" stroke-width="0.55" fill="none"/>
<path d="M335.04 276.1V290M331.84 276.1H338.24M331.84 290H338.24" stroke="#9a9a9a" stroke-width="0.55" fill="none"/>
<polyline points="226.04,292.8 247.84,292.8 269.64,276.4" fill="none" stroke="#ff5a5a" stroke-width="1.1"/>
<polyline points="291.44,294 313.24,289.9 335.04,283.2" fill="none" stroke="#ff5a5a" stroke-width="1.1"/>
<circle cx="226.04" cy="292.8" r="1.5" fill="#000"/>
<circle cx="247.84" cy="292.8" r="1.5" fill="#000"/>
<circle cx="269.64" cy="276.4" r="1.5" fill="#000"/>
<circle cx="291.44" cy="294" r="1.5" fill="#000"/>
<circle cx="313.24" cy="289.9" r="1.5" fill="#000"/>
<circle cx="335.04" cy="283.2" r="1.5" fill="#000"/>
<rect x="211.6" y="250.4" width="137.8" height="91.9" fill="none" stroke="#6e6e6e" stroke-width="1.1"/>
<path d="M211.6 250.4H213.2" stroke="#555" stroke-width="0.8"/>
<text x="209.9" y="252.6" font-size="5.7" text-anchor="end">0.025</text>
<path d="M211.6 268.78H213.2" stroke="#555" stroke-width="0.8"/>
<text x="209.9" y="270.98" font-size="5.7" text-anchor="end">0.020</text>
<path d="M211.6 287.16H213.2" stroke="#555" stroke-width="0.8"/>
<text x="209.9" y="289.36" font-size="5.7" text-anchor="end">0.015</text>
<path d="M211.6 305.54H213.2" stroke="#555" stroke-width="0.8"/>
<text x="209.9" y="307.74" font-size="5.7" text-anchor="end">0.010</text>
<path d="M211.6 323.92H213.2" stroke="#555" stroke-width="0.8"/>
<text x="209.9" y="326.12" font-size="5.7" text-anchor="end">0.005</text>
<path d="M211.6 342.3H213.2" stroke="#555" stroke-width="0.8"/>
<text x="209.9" y="344.5" font-size="5.7" text-anchor="end">0.000</text>
<path d="M347.8 250.4H349.4" stroke="#555" stroke-width="0.8"/>
<text x="351.7" y="252.6" font-size="5.7">150</text>
<path d="M347.8 281.03H349.4" stroke="#555" stroke-width="0.8"/>
<text x="351.7" y="283.23" font-size="5.7">100</text>
<path d="M347.8 311.67H349.4" stroke="#555" stroke-width="0.8"/>
<text x="351.7" y="313.87" font-size="5.7">50</text>
<path d="M347.8 342.3H349.4" stroke="#555" stroke-width="0.8"/>
<text x="351.7" y="344.5" font-size="5.7">0</text>
<path d="M226.04 340.7V342.3" stroke="#555" stroke-width="0.7"/>
<text x="226.04" y="349.4" font-size="5.8" text-anchor="middle" font-style="italic">ZS6PA</text>
<path d="M247.84 340.7V342.3" stroke="#555" stroke-width="0.7"/>
<text x="247.84" y="349.4" font-size="5.8" text-anchor="middle" font-style="italic">ZS6PB</text>
<path d="M269.64 340.7V342.3" stroke="#555" stroke-width="0.7"/>
<text x="269.64" y="349.4" font-size="5.8" text-anchor="middle" font-style="italic">ZS6PC</text>
<path d="M291.44 340.7V342.3" stroke="#555" stroke-width="0.7"/>
<text x="291.44" y="349.4" font-size="5.8" text-anchor="middle">HDLPA</text>
<path d="M313.24 340.7V342.3" stroke="#555" stroke-width="0.7"/>
<text x="313.24" y="349.4" font-size="5.8" text-anchor="middle">HDLPB</text>
<path d="M335.04 340.7V342.3" stroke="#555" stroke-width="0.7"/>
<text x="335.04" y="349.4" font-size="5.8" text-anchor="middle">HDLPC</text>
<text x="280.4" y="241" font-size="6.7" font-style="italic" text-anchor="middle">PDS</text>
<text x="280.4" y="248.6" font-size="6.66" text-anchor="middle">(evm.TU.fragScaff_scaffold_2.262)</text>
<text transform="translate(191.5,297.15) rotate(-90) scale(1,1.08)" font-size="6.35" text-anchor="middle" dominant-baseline="central">Relative expression</text>
<text transform="translate(365.7,297.55) rotate(90) scale(1,1.08)" font-size="6.35" text-anchor="middle" dominant-baseline="central">FPKM</text>
<path d="M217.5 254.4H227.8" stroke="#ff5a5a" stroke-width="1.0" opacity="0.8"/>
<circle cx="222.6" cy="254.4" r="1.3" fill="#000"/>
<text x="232.8" y="256.15" font-size="5.15">qRT-PCR</text>
<rect x="217.5" y="260" width="10.3" height="1.9" fill="#b4b4b4" stroke="#a8a8a8" stroke-width="0.4"/>
<text x="232.8" y="262.8" font-size="5.15">RNA-seq</text>
</g>
<g>
<rect x="397.77" y="322.6" width="14.53" height="19.1" fill="#d2d7d4" stroke="#9a9a9a" stroke-width="0.7"/>
<rect x="419.25" y="317.1" width="14.53" height="24.6" fill="#d2d7d4" stroke="#9a9a9a" stroke-width="0.7"/>
<rect x="440.73" y="290.7" width="14.53" height="51" fill="#d2d7d4" stroke="#9a9a9a" stroke-width="0.7"/>
<rect x="462.22" y="315.4" width="14.53" height="26.3" fill="#d2d7d4" stroke="#9a9a9a" stroke-width="0.7"/>
<rect x="483.7" y="316.6" width="14.53" height="25.1" fill="#d2d7d4" stroke="#9a9a9a" stroke-width="0.7"/>
<rect x="505.18" y="269.3" width="14.53" height="72.4" fill="#d2d7d4" stroke="#9a9a9a" stroke-width="0.7"/>
<path d="M405.03 320.5V324M401.83 320.5H408.23M401.83 324H408.23" stroke="#9a9a9a" stroke-width="0.55" fill="none"/>
<path d="M426.52 316V318.2M423.32 316H429.72M423.32 318.2H429.72" stroke="#9a9a9a" stroke-width="0.55" fill="none"/>
<path d="M448 287.4V294M444.8 287.4H451.2M444.8 294H451.2" stroke="#9a9a9a" stroke-width="0.55" fill="none"/>
<path d="M469.48 314.5V316.3M466.28 314.5H472.68M466.28 316.3H472.68" stroke="#9a9a9a" stroke-width="0.55" fill="none"/>
<path d="M490.97 315.5V317.7M487.77 315.5H494.17M487.77 317.7H494.17" stroke="#9a9a9a" stroke-width="0.55" fill="none"/>
<path d="M512.45 267.3V271.3M509.25 267.3H515.65M509.25 271.3H515.65" stroke="#9a9a9a" stroke-width="0.55" fill="none"/>
<path d="M405.03 314.1V323M401.83 314.1H408.23M401.83 323H408.23" stroke="#9a9a9a" stroke-width="0.55" fill="none"/>
<path d="M426.52 312.5V316M423.32 312.5H429.72M423.32 316H429.72" stroke="#9a9a9a" stroke-width="0.55" fill="none"/>
<path d="M448 292V301.2M444.8 292H451.2M444.8 301.2H451.2" stroke="#9a9a9a" stroke-width="0.55" fill="none"/>
<path d="M469.48 306.2V313.4M466.28 306.2H472.68M466.28 313.4H472.68" stroke="#9a9a9a" stroke-width="0.55" fill="none"/>
<path d="M490.97 315.5V319.5M487.77 315.5H494.17M487.77 319.5H494.17" stroke="#9a9a9a" stroke-width="0.55" fill="none"/>
<path d="M512.45 274V282.7M509.25 274H515.65M509.25 282.7H515.65" stroke="#9a9a9a" stroke-width="0.55" fill="none"/>
<polyline points="405.03,317.9 426.52,314.2 448,296.5" fill="none" stroke="#ff5a5a" stroke-width="1.1"/>
<polyline points="469.48,309.9 490.97,317.4 512.45,278.6" fill="none" stroke="#ff5a5a" stroke-width="1.1"/>
<circle cx="405.03" cy="317.9" r="1.5" fill="#000"/>
<circle cx="426.52" cy="314.2" r="1.5" fill="#000"/>
<circle cx="448" cy="296.5" r="1.5" fill="#000"/>
<circle cx="469.48" cy="309.9" r="1.5" fill="#000"/>
<circle cx="490.97" cy="317.4" r="1.5" fill="#000"/>
<circle cx="512.45" cy="278.6" r="1.5" fill="#000"/>
<rect x="390.8" y="250.6" width="135.8" height="91.1" fill="none" stroke="#6e6e6e" stroke-width="1.1"/>
<path d="M390.8 250.6H392.4" stroke="#555" stroke-width="0.8"/>
<text x="389.1" y="252.8" font-size="5.7" text-anchor="end">0.20</text>
<path d="M390.8 273.38H392.4" stroke="#555" stroke-width="0.8"/>
<text x="389.1" y="275.57" font-size="5.7" text-anchor="end">0.15</text>
<path d="M390.8 296.15H392.4" stroke="#555" stroke-width="0.8"/>
<text x="389.1" y="298.35" font-size="5.7" text-anchor="end">0.10</text>
<path d="M390.8 318.92H392.4" stroke="#555" stroke-width="0.8"/>
<text x="389.1" y="321.12" font-size="5.7" text-anchor="end">0.05</text>
<path d="M390.8 341.7H392.4" stroke="#555" stroke-width="0.8"/>
<text x="389.1" y="343.9" font-size="5.7" text-anchor="end">0.00</text>
<path d="M525 250.6H526.6" stroke="#555" stroke-width="0.8"/>
<text x="528.9" y="252.8" font-size="5.7">250</text>
<path d="M525 268.82H526.6" stroke="#555" stroke-width="0.8"/>
<text x="528.9" y="271.02" font-size="5.7">200</text>
<path d="M525 287.04H526.6" stroke="#555" stroke-width="0.8"/>
<text x="528.9" y="289.24" font-size="5.7">150</text>
<path d="M525 305.26H526.6" stroke="#555" stroke-width="0.8"/>
<text x="528.9" y="307.46" font-size="5.7">100</text>
<path d="M525 323.48H526.6" stroke="#555" stroke-width="0.8"/>
<text x="528.9" y="325.68" font-size="5.7">50</text>
<path d="M525 341.7H526.6" stroke="#555" stroke-width="0.8"/>
<text x="528.9" y="343.9" font-size="5.7">0</text>
<path d="M405.03 340.1V341.7" stroke="#555" stroke-width="0.7"/>
<text x="405.03" y="348.8" font-size="5.8" text-anchor="middle" font-style="italic">ZS6PA</text>
<path d="M426.52 340.1V341.7" stroke="#555" stroke-width="0.7"/>
<text x="426.52" y="348.8" font-size="5.8" text-anchor="middle" font-style="italic">ZS6PB</text>
<path d="M448 340.1V341.7" stroke="#555" stroke-width="0.7"/>
<text x="448" y="348.8" font-size="5.8" text-anchor="middle" font-style="italic">ZS6PC</text>
<path d="M469.48 340.1V341.7" stroke="#555" stroke-width="0.7"/>
<text x="469.48" y="348.8" font-size="5.8" text-anchor="middle">HDLPA</text>
<path d="M490.97 340.1V341.7" stroke="#555" stroke-width="0.7"/>
<text x="490.97" y="348.8" font-size="5.8" text-anchor="middle">HDLPB</text>
<path d="M512.45 340.1V341.7" stroke="#555" stroke-width="0.7"/>
<text x="512.45" y="348.8" font-size="5.8" text-anchor="middle">HDLPC</text>
<text x="459.7" y="241.2" font-size="6.7" font-style="italic" text-anchor="middle">Z-ISO</text>
<text x="459.7" y="248.8" font-size="6.43" text-anchor="middle">(evm.TU.fragScaff_scaffold_101.3)</text>
<text transform="translate(373.2,296.95) rotate(-90) scale(1,1.08)" font-size="6.35" text-anchor="middle" dominant-baseline="central">Relative expression</text>
<text transform="translate(542.9,297.35) rotate(90) scale(1,1.08)" font-size="6.35" text-anchor="middle" dominant-baseline="central">FPKM</text>
<path d="M396.7 254.6H407" stroke="#ff5a5a" stroke-width="1.0" opacity="0.8"/>
<circle cx="401.8" cy="254.6" r="1.3" fill="#000"/>
<text x="412" y="256.35" font-size="5.15">qRT-PCR</text>
<rect x="396.7" y="260.2" width="10.3" height="1.9" fill="#b4b4b4" stroke="#a8a8a8" stroke-width="0.4"/>
<text x="412" y="263" font-size="5.15">RNA-seq</text>
</g>
</svg></body></html>
